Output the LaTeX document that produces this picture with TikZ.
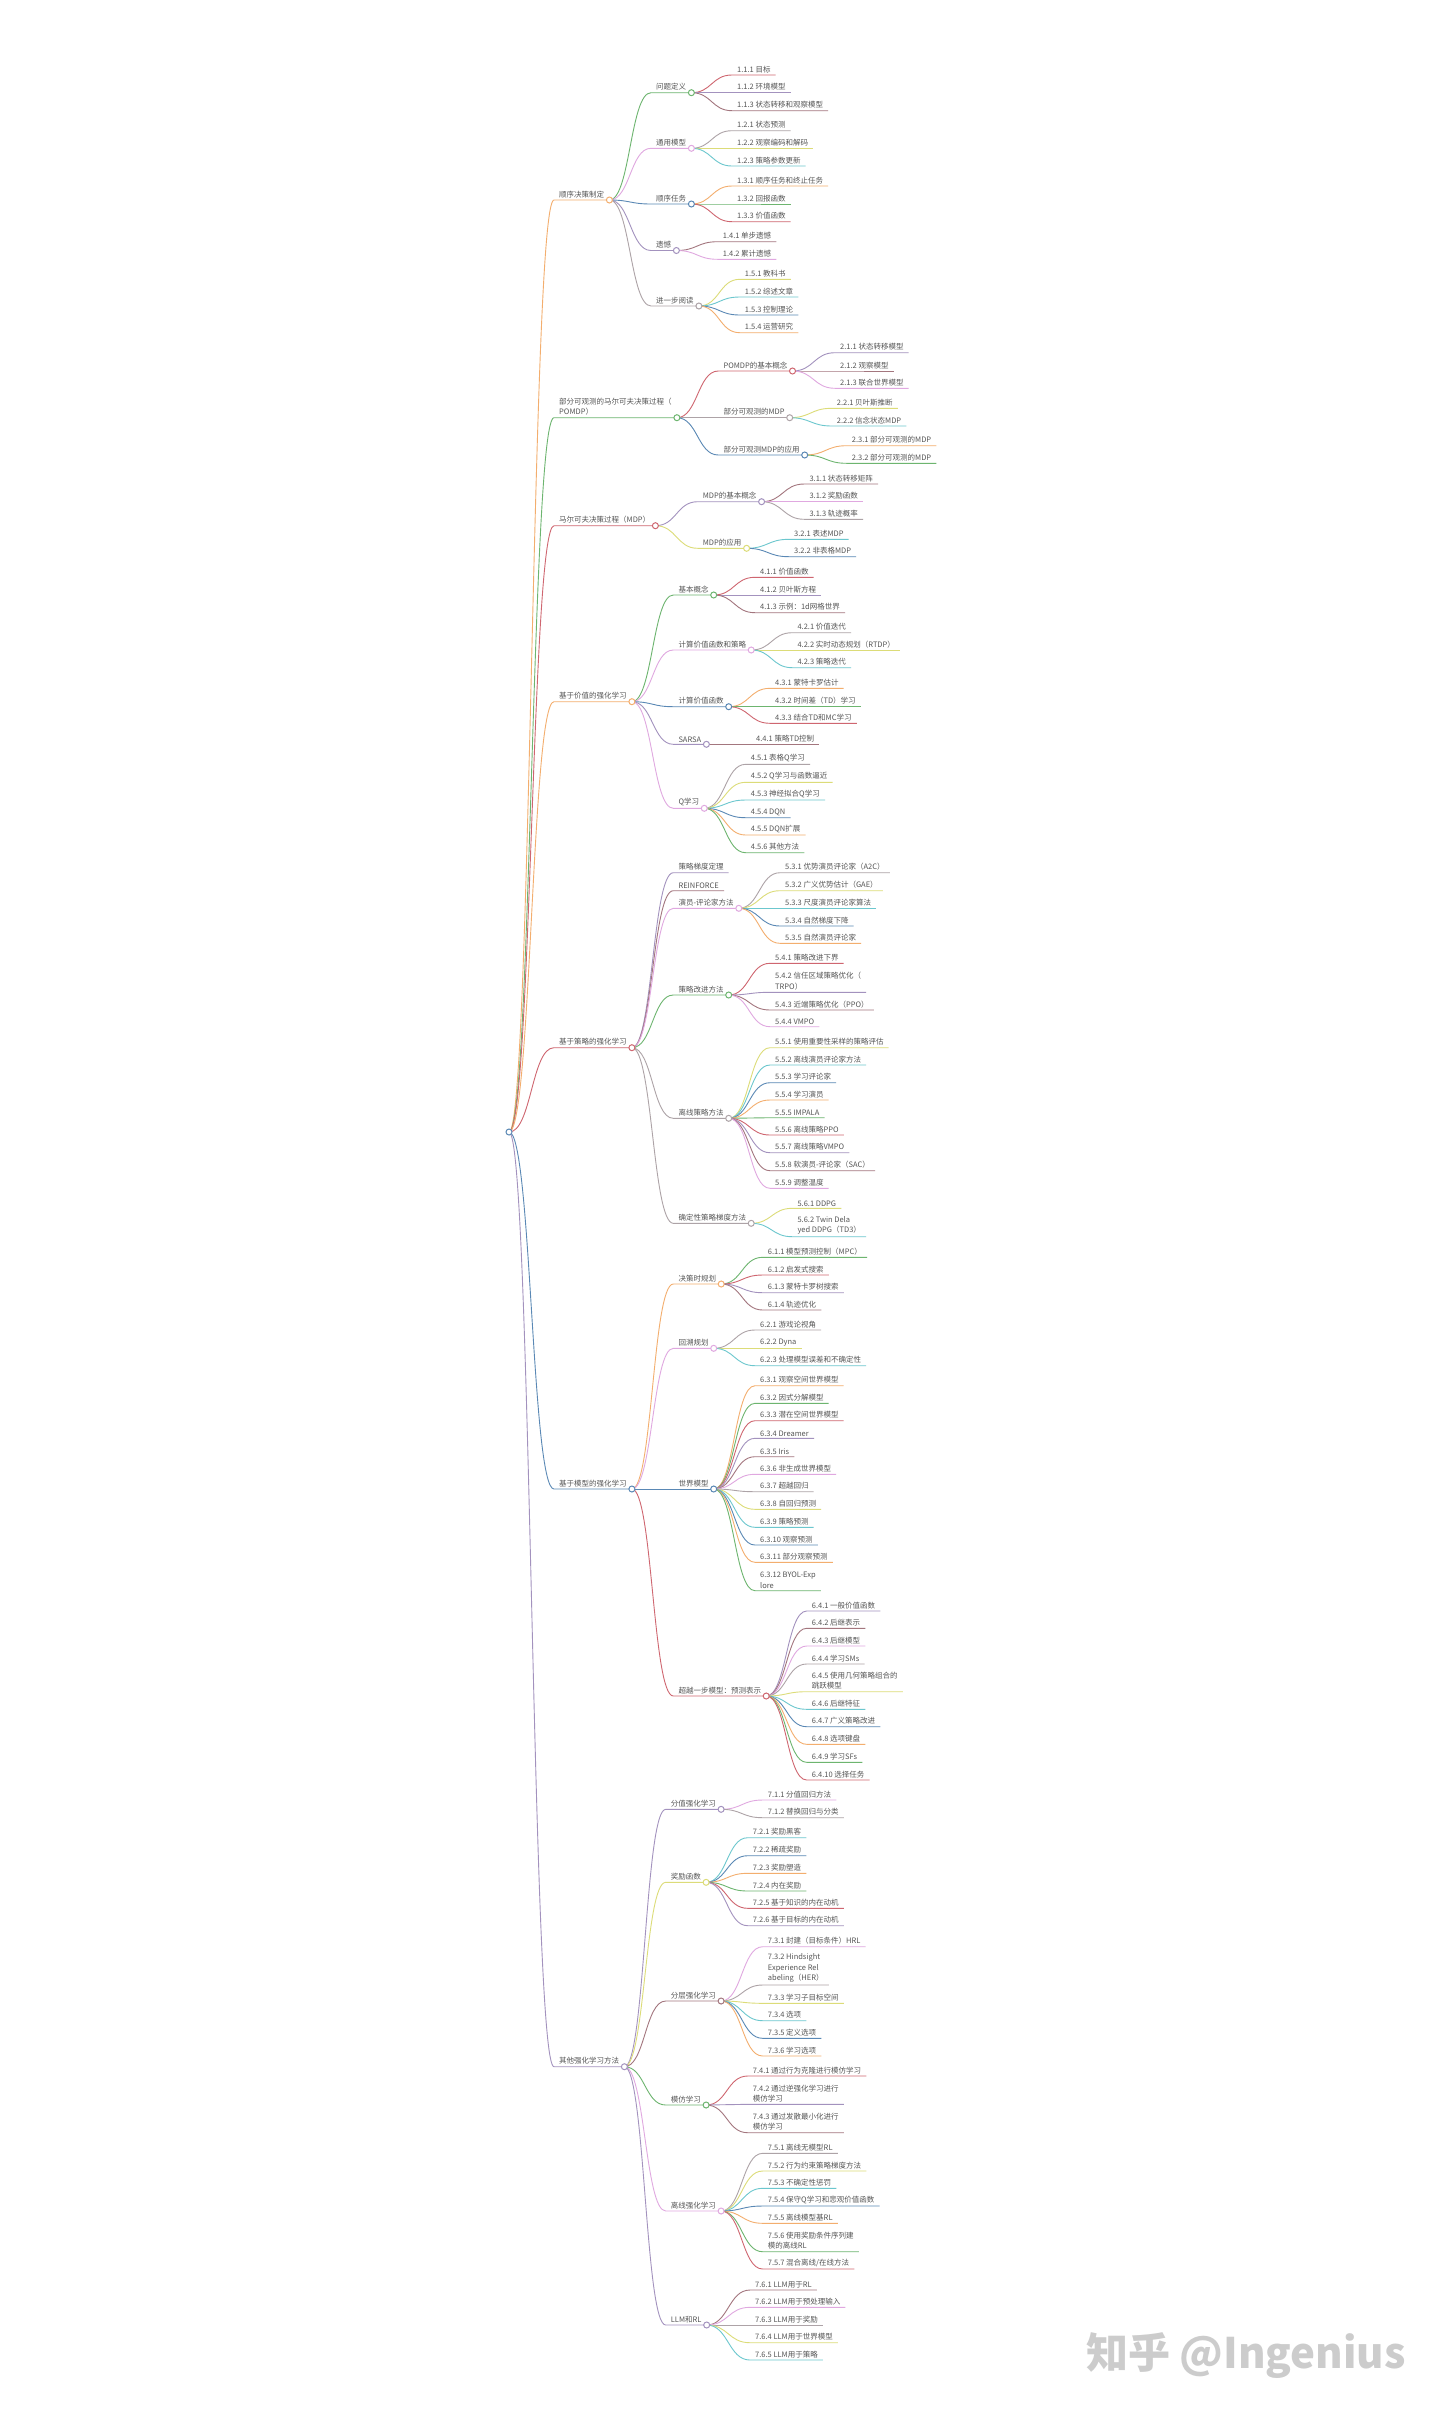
\documentclass[tikz,border=0pt]{standalone}
\usepackage{fontspec}
\newfontfamily\cjk{Noto Sans CJK SC}
\usetikzlibrary{calc, backgrounds}

\definecolor{ink}{HTML}{555555}
\definecolor{corange}{HTML}{F3AE6E}
\definecolor{cgreen}{HTML}{6DB56F}
\definecolor{cred}{HTML}{CF6670}
\definecolor{cpurple}{HTML}{A392BE}
\definecolor{cbrown}{HTML}{A3767E}
\definecolor{cpink}{HTML}{E0A8E0}
\definecolor{cgray}{HTML}{ADA3A7}
\definecolor{cyellow}{HTML}{DCDC78}
\definecolor{cteal}{HTML}{6CC7CE}
\definecolor{cblue}{HTML}{5A88B5}

\begin{document}
\begin{tikzpicture}[x=1pt, y=-1pt,
  txt/.style={font=\cjk\fontsize{7.5}{10.5}\selectfont, text=ink,
    inner xsep=5, inner ysep=2, anchor=south west, align=left},
  dot/.style={circle, draw=#1, fill=white, line width=1, inner sep=0, minimum size=6},
  hub/.style={txt, append after command={(\tikzlastnode.south east) node[dot=#1] {}}},
  link/.style={draw=#1, line width=0.9, to path={
    .. controls ($(\tikztostart)!0.5!(\tikztotarget |- \tikztostart)$)
    and ($(\tikztotarget)!0.5!(\tikztostart |- \tikztotarget)$) .. (\tikztotarget)}}]

  \useasboundingbox (0,0) rectangle (1440,2421);

  \node[dot=cblue] (root) at (509,1132) {};

  % main branches
  \node[hub=corange] (seq)    at (554,200)    {顺序决策制定};
  \node[hub=cgreen]  (pomdp)  at (554,417.7)  {部分可观测的马尔可夫决策过程（\\POMDP）};
  \node[hub=cred]    (mdp)    at (554,525.7)  {马尔可夫决策过程（MDP）};
  \node[hub=corange] (value)  at (554,701.7)  {基于价值的强化学习};
  \node[hub=cred]    (policy) at (554,1047.7) {基于策略的强化学习};
  \node[hub=cblue]   (model)  at (554,1489)   {基于模型的强化学习};
  \node[hub=cpurple] (other)  at (554,2066.7) {其他强化学习方法};

  % 1 sequential decisions
  \node[hub=cgreen]  (s1-1) at (651,92.7)  {问题定义};
  \node[hub=cpink]   (s1-2) at (651,148.3) {通用模型};
  \node[hub=cblue]   (s1-3) at (651,204)   {顺序任务};
  \node[hub=cpurple] (s1-4) at (651,250.5) {遗憾};
  \node[hub=cgray]   (s1-5) at (651,306)   {进一步阅读};
  \node[txt] (s1-1-1) at (732,75)    {1.1.1 目标};
  \node[txt] (s1-1-2) at (732,92.7)  {1.1.2 环境模型};
  \node[txt] (s1-1-3) at (732,110.7) {1.1.3 状态转移和观察模型};
  \node[txt] (s1-2-1) at (732,130.7) {1.2.1 状态预测};
  \node[txt] (s1-2-2) at (732,148.3) {1.2.2 观察编码和解码};
  \node[txt] (s1-2-3) at (732,166)   {1.2.3 策略参数更新};
  \node[txt] (s1-3-1) at (732,186)   {1.3.1 顺序任务和终止任务};
  \node[txt] (s1-3-2) at (732,204)   {1.3.2 回报函数};
  \node[txt] (s1-3-3) at (732,221.7) {1.3.3 价值函数};
  \node[txt] (s1-4-1) at (717.7,241.7) {1.4.1 单步遗憾};
  \node[txt] (s1-4-2) at (717.7,259.3) {1.4.2 累计遗憾};
  \node[txt] (s1-5-1) at (739.7,279.3) {1.5.1 教科书};
  \node[txt] (s1-5-2) at (739.7,297)   {1.5.2 综述文章};
  \node[txt] (s1-5-3) at (739.7,315)   {1.5.3 控制理论};
  \node[txt] (s1-5-4) at (739.7,332.7) {1.5.4 运营研究};

  % 2 POMDP
  \node[hub=cred]  (s2-1) at (718.3,371)   {POMDP的基本概念};
  \node[hub=cgray] (s2-2) at (718.3,417.7) {部分可观测的MDP};
  \node[hub=cblue] (s2-3) at (718.3,455)   {部分可观测MDP的应用};
  \node[txt] (s2-1-1) at (835,352.7)   {2.1.1 状态转移模型};
  \node[txt] (s2-1-2) at (835,371)     {2.1.2 观察模型};
  \node[txt] (s2-1-3) at (835,388.3)   {2.1.3 联合世界模型};
  \node[txt] (s2-2-1) at (831.7,408.3) {2.2.1 贝叶斯推断};
  \node[txt] (s2-2-2) at (831.7,426)   {2.2.2 信念状态MDP};
  \node[txt] (s2-3-1) at (846.7,445.7) {2.3.1 部分可观测的MDP};
  \node[txt] (s2-3-2) at (846.7,463.3) {2.3.2 部分可观测的MDP};

  % 3 MDP
  \node[hub=cpurple] (s3-1) at (697.7,501.7) {MDP的基本概念};
  \node[hub=cyellow] (s3-2) at (697.7,548.3) {MDP的应用};
  \node[txt] (s3-1-1) at (804.3,484)   {3.1.1 状态转移矩阵};
  \node[txt] (s3-1-2) at (804.3,501.7) {3.1.2 奖励函数};
  \node[txt] (s3-1-3) at (804.3,519.3) {3.1.3 轨迹概率};
  \node[txt] (s3-2-1) at (789,539.3)   {3.2.1 表述MDP};
  \node[txt] (s3-2-2) at (789,556.7)   {3.2.2 非表格MDP};

  % 4 value based
  \node[hub=cgreen]  (s4-1) at (673.3,595)   {基本概念};
  \node[hub=cpink]   (s4-2) at (673.3,650)   {计算价值函数和策略};
  \node[hub=cblue]   (s4-3) at (673.3,706.7) {计算价值函数};
  \node[hub=cpurple] (s4-4) at (673.3,744.3) {SARSA};
  \node[hub=cpink]   (s4-5) at (673.3,808.3) {Q学习};
  \node[txt] (s4-1-1) at (755,577.3)   {4.1.1 价值函数};
  \node[txt] (s4-1-2) at (755,595)     {4.1.2 贝叶斯方程};
  \node[txt] (s4-1-3) at (755,612.7)   {4.1.3 示例：1d网格世界};
  \node[txt] (s4-2-1) at (792.3,632.7) {4.2.1 价值迭代};
  \node[txt] (s4-2-2) at (792.3,650)   {4.2.2 实时动态规划（RTDP）};
  \node[txt] (s4-2-3) at (792.3,667.7) {4.2.3 策略迭代};
  \node[txt] (s4-3-1) at (770,688.3)   {4.3.1 蒙特卡罗估计};
  \node[txt] (s4-3-2) at (770,706.7)   {4.3.2 时间差（TD）学习};
  \node[txt] (s4-3-3) at (770,723.3)   {4.3.3 结合TD和MC学习};
  \node[txt] (s4-4-1) at (751,744.3)   {4.4.1 策略TD控制};
  \node[txt] (s4-5-1) at (745.7,764.3) {4.5.1 表格Q学习};
  \node[txt] (s4-5-2) at (745.7,782.3) {4.5.2 Q学习与函数逼近};
  \node[txt] (s4-5-3) at (745.7,800)   {4.5.3 神经拟合Q学习};
  \node[txt] (s4-5-4) at (745.7,817.7) {4.5.4 DQN};
  \node[txt] (s4-5-5) at (745.7,835)   {4.5.5 DQN扩展};
  \node[txt] (s4-5-6) at (745.7,852.7) {4.5.6 其他方法};

  % 5 policy based
  \node[txt]       (s5-1) at (673.3,872.7)  {策略梯度定理};
  \node[txt]       (s5-2) at (673.3,890.7)  {REINFORCE};
  \node[hub=cpink]  (s5-3) at (673.3,908.3)  {演员-评论家方法};
  \node[hub=cgreen] (s5-4) at (673.3,995)    {策略改进方法};
  \node[hub=cgray]  (s5-5) at (673.3,1118.3) {离线策略方法};
  \node[hub=cgray]  (s5-6) at (673.3,1223.3) {确定性策略梯度方法};
  \node[txt] (s5-3-1) at (780,872.7) {5.3.1 优势演员评论家（A2C）};
  \node[txt] (s5-3-2) at (780,890.7) {5.3.2 广义优势估计（GAE）};
  \node[txt] (s5-3-3) at (780,908.3) {5.3.3 尺度演员评论家算法};
  \node[txt] (s5-3-4) at (780,926)   {5.3.4 自然梯度下降};
  \node[txt] (s5-3-5) at (780,943.3) {5.3.5 自然演员评论家};
  \node[txt] (s5-4-1) at (770,963.3)  {5.4.1 策略改进下界};
  \node[txt] (s5-4-2) at (770,992.3)  {5.4.2 信任区域策略优化（\\TRPO）};
  \node[txt] (s5-4-3) at (770,1010)   {5.4.3 近端策略优化（PPO）};
  \node[txt] (s5-4-4) at (770,1026.7) {5.4.4 VMPO};
  \node[txt] (s5-5-1) at (770,1047.7) {5.5.1 使用重要性采样的策略评估};
  \node[txt] (s5-5-2) at (770,1065)   {5.5.2 离线演员评论家方法};
  \node[txt] (s5-5-3) at (770,1082.7) {5.5.3 学习评论家};
  \node[txt] (s5-5-4) at (770,1100)   {5.5.4 学习演员};
  \node[txt] (s5-5-5) at (770,1117.7) {5.5.5 IMPALA};
  \node[txt] (s5-5-6) at (770,1135)   {5.5.6 离线策略PPO};
  \node[txt] (s5-5-7) at (770,1152.7) {5.5.7 离线策略VMPO};
  \node[txt] (s5-5-8) at (770,1170.7) {5.5.8 软演员-评论家（SAC）};
  \node[txt] (s5-5-9) at (770,1188.3) {5.5.9 调整温度};
  \node[txt] (s5-6-1) at (792.3,1208.3) {5.6.1 DDPG};
  \node[txt] (s5-6-2) at (792.3,1236.7) {5.6.2 Twin Dela\\yed DDPG（TD3）};

  % 6 model based
  \node[hub=corange] (s6-1) at (673.3,1284)   {决策时规划};
  \node[hub=cpink]   (s6-2) at (673.3,1348.3) {回溯规划};
  \node[hub=cblue]   (s6-3) at (673.3,1489)   {世界模型};
  \node[hub=cred]    (s6-4) at (673.3,1696)   {超越一步模型：预测表示};
  \node[txt] (s6-1-1) at (762.7,1257.3) {6.1.1 模型预测控制（MPC）};
  \node[txt] (s6-1-2) at (762.7,1275)   {6.1.2 启发式搜索};
  \node[txt] (s6-1-3) at (762.7,1292.7) {6.1.3 蒙特卡罗树搜索};
  \node[txt] (s6-1-4) at (762.7,1310)   {6.1.4 轨迹优化};
  \node[txt] (s6-2-1) at (755,1330)   {6.2.1 游戏论视角};
  \node[txt] (s6-2-2) at (755,1348.3) {6.2.2 Dyna};
  \node[txt] (s6-2-3) at (755,1365.7) {6.2.3 处理模型误差和不确定性};
  \node[txt] (s6-3-1)  at (755,1385.7) {6.3.1 观察空间世界模型};
  \node[txt] (s6-3-2)  at (755,1403.3) {6.3.2 因式分解模型};
  \node[txt] (s6-3-3)  at (755,1420.7) {6.3.3 潜在空间世界模型};
  \node[txt] (s6-3-4)  at (755,1438.3) {6.3.4 Dreamer};
  \node[txt] (s6-3-5)  at (755,1456.7) {6.3.5 Iris};
  \node[txt] (s6-3-6)  at (755,1474.3) {6.3.6 非生成世界模型};
  \node[txt] (s6-3-7)  at (755,1491.7) {6.3.7 超越回归};
  \node[txt] (s6-3-8)  at (755,1509.3) {6.3.8 自回归预测};
  \node[txt] (s6-3-9)  at (755,1527.3) {6.3.9 策略预测};
  \node[txt] (s6-3-10) at (755,1545)   {6.3.10 观察预测};
  \node[txt] (s6-3-11) at (755,1562.3) {6.3.11 部分观察预测};
  \node[txt] (s6-3-12) at (755,1590.7) {6.3.12 BYOL-Exp\\lore};
  \node[txt] (s6-4-1)  at (806.7,1611)   {6.4.1 一般价值函数};
  \node[txt] (s6-4-2)  at (806.7,1628.3) {6.4.2 后继表示};
  \node[txt] (s6-4-3)  at (806.7,1646)   {6.4.3 后继模型};
  \node[txt] (s6-4-4)  at (806.7,1664)   {6.4.4 学习SMs};
  \node[txt] (s6-4-5)  at (806.7,1691.7) {6.4.5 使用几何策略组合的\\跳跃模型};
  \node[txt] (s6-4-6)  at (806.7,1709.3) {6.4.6 后继特征};
  \node[txt] (s6-4-7)  at (806.7,1726.7) {6.4.7 广义策略改进};
  \node[txt] (s6-4-8)  at (806.7,1744.3) {6.4.8 选项键盘};
  \node[txt] (s6-4-9)  at (806.7,1762.3) {6.4.9 学习SFs};
  \node[txt] (s6-4-10) at (806.7,1780)   {6.4.10 选择任务};

  % 7 other methods
  \node[hub=cpurple] (s7-1) at (665.7,1809.3) {分值强化学习};
  \node[hub=cyellow] (s7-2) at (665.7,1882.3) {奖励函数};
  \node[hub=cbrown]  (s7-3) at (665.7,2001)   {分层强化学习};
  \node[hub=cgreen]  (s7-4) at (665.7,2105)   {模仿学习};
  \node[hub=cpink]   (s7-5) at (665.7,2211)   {离线强化学习};
  \node[hub=cpurple] (s7-6) at (665.7,2325)   {LLM和RL};
  \node[txt] (s7-1-1) at (762.7,1800)   {7.1.1 分值回归方法};
  \node[txt] (s7-1-2) at (762.7,1817.7) {7.1.2 替换回归与分类};
  \node[txt] (s7-2-1) at (747.7,1837.7) {7.2.1 奖励黑客};
  \node[txt] (s7-2-2) at (747.7,1855.7) {7.2.2 稀疏奖励};
  \node[txt] (s7-2-3) at (747.7,1873.3) {7.2.3 奖励塑造};
  \node[txt] (s7-2-4) at (747.7,1891)   {7.2.4 内在奖励};
  \node[txt] (s7-2-5) at (747.7,1908.3) {7.2.5 基于知识的内在动机};
  \node[txt] (s7-2-6) at (747.7,1925.7) {7.2.6 基于目标的内在动机};
  \node[txt] (s7-3-1) at (762.7,1946.7) {7.3.1 封建（目标条件）HRL};
  \node[txt] (s7-3-2) at (762.7,1985)   {7.3.2 Hindsight\\Experience Rel\\abeling（HER）};
  \node[txt] (s7-3-3) at (762.7,2003.3) {7.3.3 学习子目标空间};
  \node[txt] (s7-3-4) at (762.7,2020.7) {7.3.4 选项};
  \node[txt] (s7-3-5) at (762.7,2038.3) {7.3.5 定义选项};
  \node[txt] (s7-3-6) at (762.7,2056)   {7.3.6 学习选项};
  \node[txt] (s7-4-1) at (747.7,2076)   {7.4.1 通过行为克隆进行模仿学习};
  \node[txt] (s7-4-2) at (747.7,2104.3) {7.4.2 通过逆强化学习进行\\模仿学习};
  \node[txt] (s7-4-3) at (747.7,2132.7) {7.4.3 通过发散最小化进行\\模仿学习};
  \node[txt] (s7-5-1) at (762.7,2153.3) {7.5.1 离线无模型RL};
  \node[txt] (s7-5-2) at (762.7,2171)   {7.5.2 行为约束策略梯度方法};
  \node[txt] (s7-5-3) at (762.7,2188.3) {7.5.3 不确定性惩罚};
  \node[txt] (s7-5-4) at (762.7,2206)   {7.5.4 保守Q学习和悲观价值函数};
  \node[txt] (s7-5-5) at (762.7,2223.3) {7.5.5 离线模型基RL};
  \node[txt] (s7-5-6) at (762.7,2251.7) {7.5.6 使用奖励条件序列建\\模的离线RL};
  \node[txt] (s7-5-7) at (762.7,2269)   {7.5.7 混合离线/在线方法};
  \node[txt] (s7-6-1) at (750,2290)   {7.6.1 LLM用于RL};
  \node[txt] (s7-6-2) at (750,2307.3) {7.6.2 LLM用于预处理输入};
  \node[txt] (s7-6-3) at (750,2325)   {7.6.3 LLM用于奖励};
  \node[txt] (s7-6-4) at (750,2342.7) {7.6.4 LLM用于世界模型};
  \node[txt] (s7-6-5) at (750,2360)   {7.6.5 LLM用于策略};

  % watermark
  \node[font=\cjk\bfseries\fontsize{42}{44}\selectfont, text=black!20] (mark) at (1246,2356) {知乎 @Ingenius};

  % links and underlines, under the dots
  \begin{scope}[on background layer]
    \fill[white] (0,0) rectangle (1440,2421);

    \draw[link=corange] (root.center) to (seq.south west) -- (seq.south east);
    \draw[link=cgreen]  (root.center) to (pomdp.south west) -- (pomdp.south east);
    \draw[link=cred]    (root.center) to (mdp.south west) -- (mdp.south east);
    \draw[link=corange] (root.center) to (value.south west) -- (value.south east);
    \draw[link=cred]    (root.center) to (policy.south west) -- (policy.south east);
    \draw[link=cblue]   (root.center) to (model.south west) -- (model.south east);
    \draw[link=cpurple] (root.center) to (other.south west) -- (other.south east);

    \draw[link=cgreen]  (seq.south east) to (s1-1.south west) -- (s1-1.south east);
    \draw[link=cpink]   (seq.south east) to (s1-2.south west) -- (s1-2.south east);
    \draw[link=cblue]   (seq.south east) to (s1-3.south west) -- (s1-3.south east);
    \draw[link=cpurple] (seq.south east) to (s1-4.south west) -- (s1-4.south east);
    \draw[link=cgray]   (seq.south east) to (s1-5.south west) -- (s1-5.south east);
    \draw[link=cred]    (s1-1.south east) to (s1-1-1.south west) -- (s1-1-1.south east);
    \draw[link=cpurple] (s1-1.south east) to (s1-1-2.south west) -- (s1-1-2.south east);
    \draw[link=cbrown]  (s1-1.south east) to (s1-1-3.south west) -- (s1-1-3.south east);
    \draw[link=cgray]   (s1-2.south east) to (s1-2-1.south west) -- (s1-2-1.south east);
    \draw[link=cyellow] (s1-2.south east) to (s1-2-2.south west) -- (s1-2-2.south east);
    \draw[link=cteal]   (s1-2.south east) to (s1-2-3.south west) -- (s1-2-3.south east);
    \draw[link=corange] (s1-3.south east) to (s1-3-1.south west) -- (s1-3-1.south east);
    \draw[link=cgreen]  (s1-3.south east) to (s1-3-2.south west) -- (s1-3-2.south east);
    \draw[link=cred]    (s1-3.south east) to (s1-3-3.south west) -- (s1-3-3.south east);
    \draw[link=cbrown]  (s1-4.south east) to (s1-4-1.south west) -- (s1-4-1.south east);
    \draw[link=cpink]   (s1-4.south east) to (s1-4-2.south west) -- (s1-4-2.south east);
    \draw[link=cyellow] (s1-5.south east) to (s1-5-1.south west) -- (s1-5-1.south east);
    \draw[link=cteal]   (s1-5.south east) to (s1-5-2.south west) -- (s1-5-2.south east);
    \draw[link=cblue]   (s1-5.south east) to (s1-5-3.south west) -- (s1-5-3.south east);
    \draw[link=corange] (s1-5.south east) to (s1-5-4.south west) -- (s1-5-4.south east);

    \draw[link=cred]    (pomdp.south east) to (s2-1.south west) -- (s2-1.south east);
    \draw[link=cgray]   (pomdp.south east) to (s2-2.south west) -- (s2-2.south east);
    \draw[link=cblue]   (pomdp.south east) to (s2-3.south west) -- (s2-3.south east);
    \draw[link=cpurple] (s2-1.south east) to (s2-1-1.south west) -- (s2-1-1.south east);
    \draw[link=cbrown]  (s2-1.south east) to (s2-1-2.south west) -- (s2-1-2.south east);
    \draw[link=cpink]   (s2-1.south east) to (s2-1-3.south west) -- (s2-1-3.south east);
    \draw[link=cyellow] (s2-2.south east) to (s2-2-1.south west) -- (s2-2-1.south east);
    \draw[link=cteal]   (s2-2.south east) to (s2-2-2.south west) -- (s2-2-2.south east);
    \draw[link=corange] (s2-3.south east) to (s2-3-1.south west) -- (s2-3-1.south east);
    \draw[link=cgreen]  (s2-3.south east) to (s2-3-2.south west) -- (s2-3-2.south east);

    \draw[link=cpurple] (mdp.south east) to (s3-1.south west) -- (s3-1.south east);
    \draw[link=cyellow] (mdp.south east) to (s3-2.south west) -- (s3-2.south east);
    \draw[link=cbrown]  (s3-1.south east) to (s3-1-1.south west) -- (s3-1-1.south east);
    \draw[link=cpink]   (s3-1.south east) to (s3-1-2.south west) -- (s3-1-2.south east);
    \draw[link=cgray]   (s3-1.south east) to (s3-1-3.south west) -- (s3-1-3.south east);
    \draw[link=cteal]   (s3-2.south east) to (s3-2-1.south west) -- (s3-2-1.south east);
    \draw[link=cblue]   (s3-2.south east) to (s3-2-2.south west) -- (s3-2-2.south east);

    \draw[link=cgreen]  (value.south east) to (s4-1.south west) -- (s4-1.south east);
    \draw[link=cpink]   (value.south east) to (s4-2.south west) -- (s4-2.south east);
    \draw[link=cblue]   (value.south east) to (s4-3.south west) -- (s4-3.south east);
    \draw[link=cpurple] (value.south east) to (s4-4.south west) -- (s4-4.south east);
    \draw[link=cpink]   (value.south east) to (s4-5.south west) -- (s4-5.south east);
    \draw[link=cred]    (s4-1.south east) to (s4-1-1.south west) -- (s4-1-1.south east);
    \draw[link=cpurple] (s4-1.south east) to (s4-1-2.south west) -- (s4-1-2.south east);
    \draw[link=cbrown]  (s4-1.south east) to (s4-1-3.south west) -- (s4-1-3.south east);
    \draw[link=cgray]   (s4-2.south east) to (s4-2-1.south west) -- (s4-2-1.south east);
    \draw[link=cyellow] (s4-2.south east) to (s4-2-2.south west) -- (s4-2-2.south east);
    \draw[link=cteal]   (s4-2.south east) to (s4-2-3.south west) -- (s4-2-3.south east);
    \draw[link=corange] (s4-3.south east) to (s4-3-1.south west) -- (s4-3-1.south east);
    \draw[link=cgreen]  (s4-3.south east) to (s4-3-2.south west) -- (s4-3-2.south east);
    \draw[link=cred]    (s4-3.south east) to (s4-3-3.south west) -- (s4-3-3.south east);
    \draw[link=cbrown]  (s4-4.south east) to (s4-4-1.south west) -- (s4-4-1.south east);
    \draw[link=cgray]   (s4-5.south east) to (s4-5-1.south west) -- (s4-5-1.south east);
    \draw[link=cyellow] (s4-5.south east) to (s4-5-2.south west) -- (s4-5-2.south east);
    \draw[link=cteal]   (s4-5.south east) to (s4-5-3.south west) -- (s4-5-3.south east);
    \draw[link=cblue]   (s4-5.south east) to (s4-5-4.south west) -- (s4-5-4.south east);
    \draw[link=corange] (s4-5.south east) to (s4-5-5.south west) -- (s4-5-5.south east);
    \draw[link=cgreen]  (s4-5.south east) to (s4-5-6.south west) -- (s4-5-6.south east);

    \draw[link=cpurple] (policy.south east) to (s5-1.south west) -- (s5-1.south east);
    \draw[link=cbrown]  (policy.south east) to (s5-2.south west) -- (s5-2.south east);
    \draw[link=cpink]   (policy.south east) to (s5-3.south west) -- (s5-3.south east);
    \draw[link=cgreen]  (policy.south east) to (s5-4.south west) -- (s5-4.south east);
    \draw[link=cgray]   (policy.south east) to (s5-5.south west) -- (s5-5.south east);
    \draw[link=cgray]   (policy.south east) to (s5-6.south west) -- (s5-6.south east);
    \draw[link=cgray]   (s5-3.south east) to (s5-3-1.south west) -- (s5-3-1.south east);
    \draw[link=cyellow] (s5-3.south east) to (s5-3-2.south west) -- (s5-3-2.south east);
    \draw[link=cteal]   (s5-3.south east) to (s5-3-3.south west) -- (s5-3-3.south east);
    \draw[link=cblue]   (s5-3.south east) to (s5-3-4.south west) -- (s5-3-4.south east);
    \draw[link=corange] (s5-3.south east) to (s5-3-5.south west) -- (s5-3-5.south east);
    \draw[link=cred]    (s5-4.south east) to (s5-4-1.south west) -- (s5-4-1.south east);
    \draw[link=cpurple] (s5-4.south east) to (s5-4-2.south west) -- (s5-4-2.south east);
    \draw[link=cbrown]  (s5-4.south east) to (s5-4-3.south west) -- (s5-4-3.south east);
    \draw[link=cpink]   (s5-4.south east) to (s5-4-4.south west) -- (s5-4-4.south east);
    \draw[link=cyellow] (s5-5.south east) to (s5-5-1.south west) -- (s5-5-1.south east);
    \draw[link=cteal]   (s5-5.south east) to (s5-5-2.south west) -- (s5-5-2.south east);
    \draw[link=cblue]   (s5-5.south east) to (s5-5-3.south west) -- (s5-5-3.south east);
    \draw[link=corange] (s5-5.south east) to (s5-5-4.south west) -- (s5-5-4.south east);
    \draw[link=cgreen]  (s5-5.south east) to (s5-5-5.south west) -- (s5-5-5.south east);
    \draw[link=cred]    (s5-5.south east) to (s5-5-6.south west) -- (s5-5-6.south east);
    \draw[link=cpurple] (s5-5.south east) to (s5-5-7.south west) -- (s5-5-7.south east);
    \draw[link=cbrown]  (s5-5.south east) to (s5-5-8.south west) -- (s5-5-8.south east);
    \draw[link=cpink]   (s5-5.south east) to (s5-5-9.south west) -- (s5-5-9.south east);
    \draw[link=cyellow] (s5-6.south east) to (s5-6-1.south west) -- (s5-6-1.south east);
    \draw[link=cteal]   (s5-6.south east) to (s5-6-2.south west) -- (s5-6-2.south east);

    \draw[link=corange] (model.south east) to (s6-1.south west) -- (s6-1.south east);
    \draw[link=cpink]   (model.south east) to (s6-2.south west) -- (s6-2.south east);
    \draw[link=cblue]   (model.south east) to (s6-3.south west) -- (s6-3.south east);
    \draw[link=cred]    (model.south east) to (s6-4.south west) -- (s6-4.south east);
    \draw[link=cgreen]  (s6-1.south east) to (s6-1-1.south west) -- (s6-1-1.south east);
    \draw[link=cred]    (s6-1.south east) to (s6-1-2.south west) -- (s6-1-2.south east);
    \draw[link=cpurple] (s6-1.south east) to (s6-1-3.south west) -- (s6-1-3.south east);
    \draw[link=cbrown]  (s6-1.south east) to (s6-1-4.south west) -- (s6-1-4.south east);
    \draw[link=cgray]   (s6-2.south east) to (s6-2-1.south west) -- (s6-2-1.south east);
    \draw[link=cyellow] (s6-2.south east) to (s6-2-2.south west) -- (s6-2-2.south east);
    \draw[link=cteal]   (s6-2.south east) to (s6-2-3.south west) -- (s6-2-3.south east);
    \draw[link=corange] (s6-3.south east) to (s6-3-1.south west) -- (s6-3-1.south east);
    \draw[link=cgreen]  (s6-3.south east) to (s6-3-2.south west) -- (s6-3-2.south east);
    \draw[link=cred]    (s6-3.south east) to (s6-3-3.south west) -- (s6-3-3.south east);
    \draw[link=cpurple] (s6-3.south east) to (s6-3-4.south west) -- (s6-3-4.south east);
    \draw[link=cbrown]  (s6-3.south east) to (s6-3-5.south west) -- (s6-3-5.south east);
    \draw[link=cpink]   (s6-3.south east) to (s6-3-6.south west) -- (s6-3-6.south east);
    \draw[link=cgray]   (s6-3.south east) to (s6-3-7.south west) -- (s6-3-7.south east);
    \draw[link=cyellow] (s6-3.south east) to (s6-3-8.south west) -- (s6-3-8.south east);
    \draw[link=cteal]   (s6-3.south east) to (s6-3-9.south west) -- (s6-3-9.south east);
    \draw[link=cblue]   (s6-3.south east) to (s6-3-10.south west) -- (s6-3-10.south east);
    \draw[link=corange] (s6-3.south east) to (s6-3-11.south west) -- (s6-3-11.south east);
    \draw[link=cgreen]  (s6-3.south east) to (s6-3-12.south west) -- (s6-3-12.south east);
    \draw[link=cpurple] (s6-4.south east) to (s6-4-1.south west) -- (s6-4-1.south east);
    \draw[link=cbrown]  (s6-4.south east) to (s6-4-2.south west) -- (s6-4-2.south east);
    \draw[link=cpink]   (s6-4.south east) to (s6-4-3.south west) -- (s6-4-3.south east);
    \draw[link=cgray]   (s6-4.south east) to (s6-4-4.south west) -- (s6-4-4.south east);
    \draw[link=cyellow] (s6-4.south east) to (s6-4-5.south west) -- (s6-4-5.south east);
    \draw[link=cteal]   (s6-4.south east) to (s6-4-6.south west) -- (s6-4-6.south east);
    \draw[link=cblue]   (s6-4.south east) to (s6-4-7.south west) -- (s6-4-7.south east);
    \draw[link=corange] (s6-4.south east) to (s6-4-8.south west) -- (s6-4-8.south east);
    \draw[link=cgreen]  (s6-4.south east) to (s6-4-9.south west) -- (s6-4-9.south east);
    \draw[link=cred]    (s6-4.south east) to (s6-4-10.south west) -- (s6-4-10.south east);

    \draw[link=cpurple] (other.south east) to (s7-1.south west) -- (s7-1.south east);
    \draw[link=cyellow] (other.south east) to (s7-2.south west) -- (s7-2.south east);
    \draw[link=cbrown]  (other.south east) to (s7-3.south west) -- (s7-3.south east);
    \draw[link=cgreen]  (other.south east) to (s7-4.south west) -- (s7-4.south east);
    \draw[link=cpink]   (other.south east) to (s7-5.south west) -- (s7-5.south east);
    \draw[link=cpurple] (other.south east) to (s7-6.south west) -- (s7-6.south east);
    \draw[link=cpink]   (s7-1.south east) to (s7-1-1.south west) -- (s7-1-1.south east);
    \draw[link=cgray]   (s7-1.south east) to (s7-1-2.south west) -- (s7-1-2.south east);
    \draw[link=cteal]   (s7-2.south east) to (s7-2-1.south west) -- (s7-2-1.south east);
    \draw[link=cblue]   (s7-2.south east) to (s7-2-2.south west) -- (s7-2-2.south east);
    \draw[link=corange] (s7-2.south east) to (s7-2-3.south west) -- (s7-2-3.south east);
    \draw[link=cgreen]  (s7-2.south east) to (s7-2-4.south west) -- (s7-2-4.south east);
    \draw[link=cred]    (s7-2.south east) to (s7-2-5.south west) -- (s7-2-5.south east);
    \draw[link=cpurple] (s7-2.south east) to (s7-2-6.south west) -- (s7-2-6.south east);
    \draw[link=cpink]   (s7-3.south east) to (s7-3-1.south west) -- (s7-3-1.south east);
    \draw[link=cgray]   (s7-3.south east) to (s7-3-2.south west) -- (s7-3-2.south east);
    \draw[link=cyellow] (s7-3.south east) to (s7-3-3.south west) -- (s7-3-3.south east);
    \draw[link=cteal]   (s7-3.south east) to (s7-3-4.south west) -- (s7-3-4.south east);
    \draw[link=cblue]   (s7-3.south east) to (s7-3-5.south west) -- (s7-3-5.south east);
    \draw[link=corange] (s7-3.south east) to (s7-3-6.south west) -- (s7-3-6.south east);
    \draw[link=cred]    (s7-4.south east) to (s7-4-1.south west) -- (s7-4-1.south east);
    \draw[link=cpurple] (s7-4.south east) to (s7-4-2.south west) -- (s7-4-2.south east);
    \draw[link=cbrown]  (s7-4.south east) to (s7-4-3.south west) -- (s7-4-3.south east);
    \draw[link=cgray]   (s7-5.south east) to (s7-5-1.south west) -- (s7-5-1.south east);
    \draw[link=cyellow] (s7-5.south east) to (s7-5-2.south west) -- (s7-5-2.south east);
    \draw[link=cteal]   (s7-5.south east) to (s7-5-3.south west) -- (s7-5-3.south east);
    \draw[link=cblue]   (s7-5.south east) to (s7-5-4.south west) -- (s7-5-4.south east);
    \draw[link=corange] (s7-5.south east) to (s7-5-5.south west) -- (s7-5-5.south east);
    \draw[link=cgreen]  (s7-5.south east) to (s7-5-6.south west) -- (s7-5-6.south east);
    \draw[link=cred]    (s7-5.south east) to (s7-5-7.south west) -- (s7-5-7.south east);
    \draw[link=cbrown]  (s7-6.south east) to (s7-6-1.south west) -- (s7-6-1.south east);
    \draw[link=cpink]   (s7-6.south east) to (s7-6-2.south west) -- (s7-6-2.south east);
    \draw[link=cgray]   (s7-6.south east) to (s7-6-3.south west) -- (s7-6-3.south east);
    \draw[link=cyellow] (s7-6.south east) to (s7-6-4.south west) -- (s7-6-4.south east);
    \draw[link=cteal]   (s7-6.south east) to (s7-6-5.south west) -- (s7-6-5.south east);
  \end{scope}

\end{tikzpicture}
\end{document}
